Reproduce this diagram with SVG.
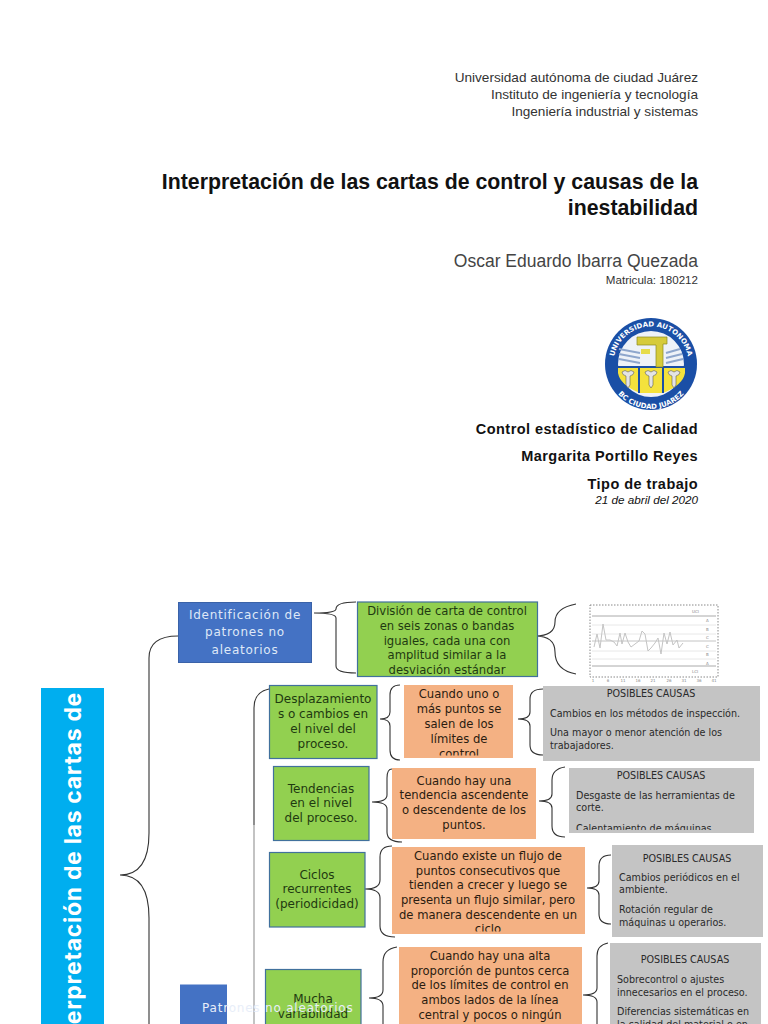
<svg xmlns="http://www.w3.org/2000/svg" width="768" height="1024" viewBox="0 0 768 1024">
<style>
.h{font-family:"Liberation Sans",Arial,sans-serif;text-anchor:end;fill:#333}
.b{font-weight:bold;fill:#111}
.c{font-size:14.500px;letter-spacing:.45px}
.t{font-family:"DejaVu Sans",sans-serif;font-size:12px;text-anchor:middle;fill:#1f3a10}
.s{font-size:11.600px}
.o{font-size:11.600px;fill:#2b1c10}
.g{font-family:"DejaVu Sans",sans-serif;font-size:9.6px;fill:#2a2a2a}
.gc{text-anchor:middle}
.bl{fill:#4472c4;stroke:#3a62a8}
.gr{fill:#92d050;stroke:#41719c;stroke-width:1.2}
.or{fill:#f4b183}
.gy{fill:#c4c4c4}
.br{fill:none;stroke:#333;stroke-width:1.1}
.ch{fill:none;stroke:#c4c4c4;stroke-width:1}
</style>
<defs>
<clipPath id="c1"><rect x="404" y="685" width="109" height="70.500"/></clipPath>
<clipPath id="c2"><rect x="569" y="768" width="185" height="62"/></clipPath>
<clipPath id="c3"><rect x="392" y="847" width="193" height="84.500"/></clipPath>
<path id="logoTop" d="M614,372A37.800,37.800 0 1 1 688,372"/>
<path id="logoBot" d="M609,378A44,44 0 0 0 693,378"/>
</defs>
<rect width="768" height="1024" fill="#fff"/>

<g id="header">
<text class="h" x="698" y="82" font-size="13.600">Universidad autónoma de ciudad Juárez</text>
<text class="h" x="698" y="99" font-size="13.600">Instituto de ingeniería y tecnología</text>
<text class="h" x="698" y="116" font-size="13.600">Ingeniería industrial y sistemas</text>
<text class="h b" x="698" y="189" font-size="21.300">Interpretación de las cartas de control y causas de la</text>
<text class="h b" x="698" y="215" font-size="21.300">inestabilidad</text>
<text class="h" x="698" y="267" font-size="17.500" style="fill:#444">Oscar Eduardo Ibarra Quezada</text>
<text class="h" x="698" y="284" font-size="11.600">Matricula: 180212</text>
<text class="h b c" x="698" y="434">Control estadístico de Calidad</text>
<text class="h b c" x="698" y="461">Margarita Portillo Reyes</text>
<text class="h b c" x="698" y="489">Tipo de trabajo</text>
<text class="h" x="698" y="504" font-size="11.700" font-style="italic" style="fill:#111">21 de abril del 2020</text>
</g>

<g id="logo">
<circle cx="651" cy="364" r="46" fill="#1a4fa6"/>
<circle cx="651" cy="364" r="33" fill="#eef2f8"/>
<path d="M619,349L640,353M619,354L640,358M619,359L640,363M680,349L666,353M682,354L666,358M683,359L666,363" stroke="#8ea6cc" stroke-width="2"/>
<path d="M618,367H685V373Q683,385 663,393H640Q620,385 618,373Z" fill="#f4e23c"/>
<path d="M618,367H685M639,367V393M663,367V393" fill="none" stroke="#1a4fa6" stroke-width="2"/>
<path d="M637,337H667V344H663V367H656V345H637Z" fill="#d6cb3a" stroke="#8a8a20" stroke-width=".7"/>
<path d="M641,349h9v5h-9z" fill="#e6dc4a"/>
<path d="M622,372q3,-3 6,0q3,-3 6,0q0,3 -4,4v9l-2,3l-2,-3v-9q-4,-1 -4,-4zM645,372q3,-3 6,0q3,-3 6,0q0,3 -4,4v9l-2,3l-2,-3v-9q-4,-1 -4,-4zM668,372q3,-3 6,0q3,-3 6,0q0,3 -4,4v9l-2,3l-2,-3v-9q-4,-1 -4,-4z" fill="#e4e4e4" stroke="#444" stroke-width=".5"/>
<text font-family="'DejaVu Sans',sans-serif" font-size="7" font-weight="bold" fill="#fff" text-anchor="middle"><textPath href="#logoTop" startOffset="50%">UNIVERSIDAD AUTONOMA</textPath></text>
<text font-family="'DejaVu Sans',sans-serif" font-size="7" font-weight="bold" fill="#fff" text-anchor="middle"><textPath href="#logoBot" startOffset="50%">BC CIUDAD JUAREZ</textPath></text>
</g>

<g id="connectors">
<path class="br" d="M178,636Q149,636 149,658V833Q149,875 120,875Q149,875 149,918V1024"/>
<path class="br" d="M269,689Q254,692 254,708V825"/>
<path class="br" d="M254,825V1024" style="stroke:#aaa;stroke-width:1.4"/>
<path class="br" d="M356,602Q336,602 336,609Q336,613 314,613Q336,613 336,618V666Q336,673 356,673"/>
<path class="br" d="M576,604Q555,608 555,622Q555,636 535,636Q555,636 555,652Q555,670 576,674"/>
<path class="br" d="M400,685Q390,685 390,695V712Q390,719 380,719Q390,719 390,726V750Q390,760 400,760"/>
<path class="br" d="M543,689Q530,689 530,699V712Q530,719 518,719Q530,719 530,726V745Q530,755 543,755"/>
<path class="br" d="M392,769Q387,769 387,778V795Q387,802 372,802Q387,802 387,809V832Q387,842 402,842"/>
<path class="br" d="M565,767Q552,769 552,780V794Q552,801 539,801Q552,801 552,808V826Q552,837 565,837"/>
<path class="br" d="M392,846Q380,846 380,857V880Q380,889 365,889Q380,889 380,898V926Q380,937 395,937"/>
<path class="br" d="M611,855Q599,855 599,866V881Q599,888 587,888Q599,888 599,895V914Q599,924 611,924"/>
<path class="br" d="M397,947Q383,949 383,962V990Q383,998 369,998Q383,998 383,1006V1024"/>
<path class="br" d="M608,943Q597,945 597,956V988Q597,995 583,995Q597,995 597,1002V1024"/>
</g>

<g id="n-titulo">
<rect x="41" y="688" width="63" height="336" fill="#00aeef"/>
<text transform="translate(81,692) rotate(-90)" text-anchor="end" font-family="Inter,'Open Sans',sans-serif" font-size="23" font-weight="bold" letter-spacing=".7" fill="#fff">Interpretación de las cartas de</text>
</g>

<g id="n-identificacion">
<rect class="bl" x="178.500" y="602.500" width="133" height="60"/>
<g class="t" style="fill:#dfe8f7;letter-spacing:.75px"><text x="245" y="619">Identificación de</text><text x="245" y="636">patrones no</text><text x="245" y="654">aleatorios</text></g>
</g>

<g id="n-division">
<rect class="gr" x="357.500" y="602" width="180" height="74.500"/>
<g class="t s"><text x="447" y="615">División de carta de control</text><text x="447" y="630">en seis zonas o bandas</text><text x="447" y="645">iguales, cada una con</text><text x="447" y="659">amplitud similar a la</text><text x="447" y="674">desviación estándar</text></g>
</g>

<g id="n-grafica">
<rect x="590" y="605" width="128" height="72" fill="#fff" stroke="#888" stroke-width="1" stroke-dasharray="1.5 1.5"/>
<path class="ch" d="M592,616H716M592,666H716" style="stroke:#aaa"/>
<path class="ch" d="M592,625H716M592,634H716M592,651H716M592,659H716" style="stroke:#e8e8e8"/>
<path class="ch" d="M592,641H716"/>
<path class="ch" d="M594,647L597,634L600,648L603,624L606,640L610,640L614,642L617,646L620,633L622,644L625,633L628,642L631,647L635,644L639,641L642,631L645,634L648,651L651,648L655,643L658,638L661,654L664,633L667,644L670,632L673,645L677,640L679,648L683,643"/>
<g font-family="'DejaVu Sans',sans-serif" font-size="4" fill="#888"><text x="692" y="613">UCI</text><text x="692" y="673">LCI</text><text x="706" y="622">A</text><text x="706" y="631">B</text><text x="706" y="639">C</text><text x="706" y="648">C</text><text x="706" y="656">B</text><text x="706" y="665">A</text>
<g text-anchor="middle"><text x="593" y="682">1</text><text x="608" y="682">6</text><text x="623" y="682">11</text><text x="638" y="682">16</text><text x="653" y="682">21</text><text x="669" y="682">26</text><text x="684" y="682">31</text><text x="699" y="682">36</text><text x="714" y="682">41</text></g></g>
</g>

<g id="n-desplazamientos">
<rect class="gr" x="269.500" y="685.500" width="107.500" height="73"/>
<g class="t"><text x="323" y="703">Desplazamiento</text><text x="323" y="718">s o cambios en</text><text x="323" y="733">el nivel del</text><text x="323" y="748">proceso.</text></g>
</g>
<g id="n-uno">
<rect class="or" x="404" y="685" width="109" height="73"/>
<g class="t o" clip-path="url(#c1)"><text x="459" y="698">Cuando uno o</text><text x="459" y="713">más puntos se</text><text x="459" y="728">salen de los</text><text x="459" y="743">límites de</text><text x="459" y="758">control</text></g>
</g>
<g id="n-causas1">
<rect class="gy" x="543" y="686" width="217" height="75"/>
<text class="g gc" x="651" y="697">POSIBLES CAUSAS</text>
<text class="g" x="550" y="717">Cambios en los métodos de inspección.</text>
<text class="g" x="550" y="736">Una mayor o menor atención de los</text>
<text class="g" x="550" y="749">trabajadores.</text>
</g>

<g id="n-tendencias">
<rect class="gr" x="273.500" y="766.500" width="95.500" height="74"/>
<g class="t"><text x="321" y="793">Tendencias</text><text x="321" y="807">en el nivel</text><text x="321" y="822">del proceso.</text></g>
</g>
<g id="n-ascendente">
<rect class="or" x="392" y="768" width="144" height="71"/>
<g class="t o"><text x="464" y="785">Cuando hay una</text><text x="464" y="799">tendencia ascendente</text><text x="464" y="814">o descendente de los</text><text x="464" y="829">puntos.</text></g>
</g>
<g id="n-causas2">
<rect class="gy" x="569" y="768" width="185" height="65"/>
<g clip-path="url(#c2)">
<text class="g gc" x="661" y="779">POSIBLES CAUSAS</text>
<text class="g" x="576" y="799">Desgaste de las herramientas de</text>
<text class="g" x="576" y="811">corte.</text>
<text class="g" x="576" y="832">Calentamiento de máquinas.</text>
</g>
</g>

<g id="n-ciclos">
<rect class="gr" x="269.500" y="852.500" width="95.500" height="74.500"/>
<g class="t"><text x="317" y="879">Ciclos</text><text x="317" y="893">recurrentes</text><text x="317" y="908">(periodicidad)</text></g>
</g>
<g id="n-flujo">
<rect class="or" x="392" y="847" width="193" height="87"/>
<g class="t o" clip-path="url(#c3)"><text x="488" y="860">Cuando existe un flujo de</text><text x="488" y="875">puntos consecutivos que</text><text x="488" y="889">tienden a crecer y luego se</text><text x="488" y="904">presenta un flujo similar, pero</text><text x="488" y="919">de manera descendente en un</text><text x="488" y="933">ciclo</text></g>
</g>
<g id="n-causas3">
<rect class="gy" x="612" y="845" width="151" height="92"/>
<text class="g gc" x="687" y="862">POSIBLES CAUSAS</text>
<text class="g" x="619" y="881">Cambios periódicos en el</text>
<text class="g" x="619" y="893">ambiente.</text>
<text class="g" x="619" y="913">Rotación regular de</text>
<text class="g" x="619" y="926">máquinas u operarios.</text>
</g>

<g id="n-mucha">
<rect class="gr" x="265.500" y="969.500" width="95.500" height="60"/>
<g class="t"><text x="313" y="1003">Mucha</text><text x="313" y="1018">variabilidad</text></g>
</g>
<g id="n-alta">
<rect class="or" x="399" y="947" width="183" height="80"/>
<g class="t o"><text x="490" y="960">Cuando hay una alta</text><text x="490" y="975">proporción de puntos cerca</text><text x="490" y="989">de los límites de control en</text><text x="490" y="1004">ambos lados de la línea</text><text x="490" y="1019">central y pocos o ningún</text></g>
</g>
<g id="n-causas4">
<rect class="gy" x="610" y="943" width="151" height="84"/>
<text class="g gc" x="685" y="963">POSIBLES CAUSAS</text>
<text class="g" x="617" y="983">Sobrecontrol o ajustes</text>
<text class="g" x="617" y="996">innecesarios en el proceso.</text>
<text class="g" x="617" y="1015">Diferencias sistemáticas en</text>
<text class="g" x="617" y="1028">la calidad del material o en</text>
</g>

<g id="n-patrones">
<rect x="180" y="984.500" width="47" height="42" fill="#4472c4"/>
<text x="202" y="1012" font-family="'DejaVu Sans',sans-serif" font-size="12" letter-spacing=".8" fill="#e8eef9">Patrones no aleatorios</text>
</g>
</svg>
